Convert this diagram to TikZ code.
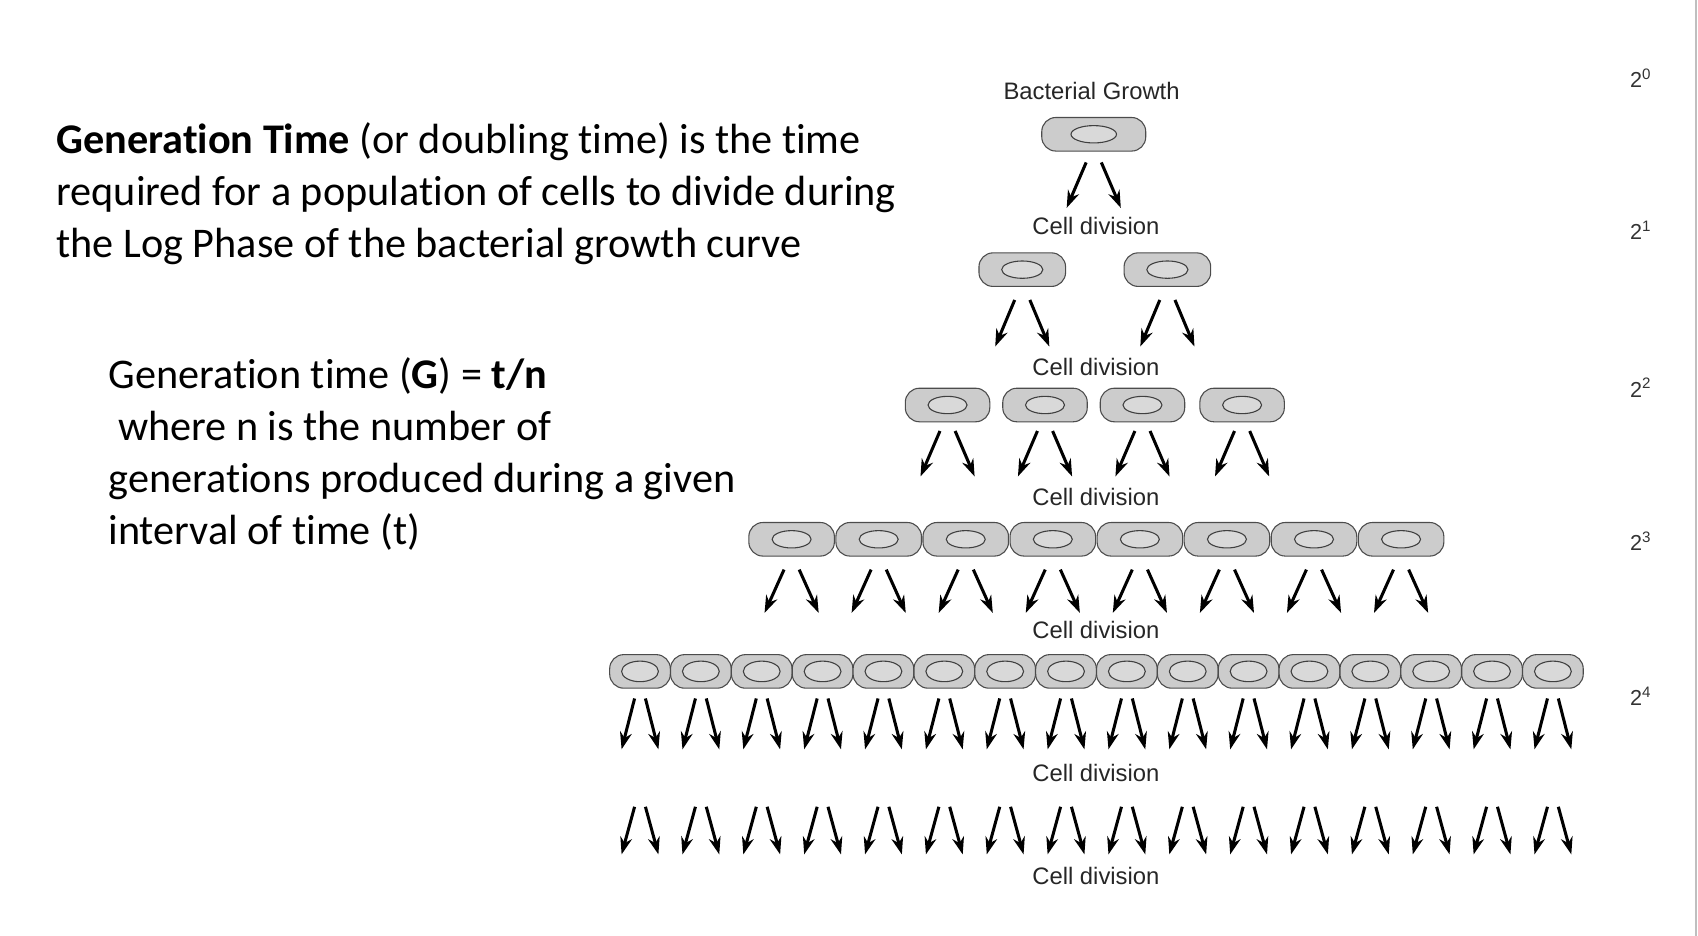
\documentclass[tikz,border=0pt]{standalone}
\usepackage{fontspec}
\setmainfont{Carlito}[Ligatures=CommonOff]
\newfontfamily\lab{Liberation Sans}
\usetikzlibrary{arrows.meta,shapes.geometric}
\tikzset{
  cellbox/.style={draw=black!70, fill=black!20, rounded corners=13pt, minimum height=31pt, line width=1pt, inner sep=0pt},
  nucl/.style={draw=black!75, fill=black!15, ellipse, line width=1pt},
  arr/.style={line width=2.8pt, -{Stealth[length=16pt,width=11pt]}},
  lbl/.style={font=\lab\fontsize{22}{26}\selectfont, text=black!85},
  expo/.style={font=\lab\fontsize{20}{24}\selectfont, text=black!80},
  body/.style={font=\fontsize{39}{48}\selectfont, anchor=north west, align=left, inner sep=0pt}
}
\begin{document}
\begin{tikzpicture}[x=1pt,y=-1pt]
\useasboundingbox (0,0) rectangle (1568,864);
\draw[black!25, line width=1.5pt] (1566,0) -- (1566,864);
\node[body] (t1) at (52,113) {\textbf{Generation Time} (or doubling time) is the time\\required for a population of cells to divide during\\the Log Phase of the bacterial growth curve};
\node[body] (t2) at (100,330) {Generation time (\textbf{G}) = \textbf{t/n}\\\ where n is the number of\\generations produced during a given\\interval of time (t)};
\node[lbl] (bg) at (1008,84) {Bacterial Growth};
\foreach \y [count=\i] in {209,339,459,582,714,809} \node[lbl] (cd\i) at (1012,\y) {Cell division};
\foreach \y/\e in {72/0,213/1,358/2,500/3,643/4} \node[expo] (e\e) at (1515,\y) {2\textsuperscript{\e}};
% cells
\newcommand\mycell[6]{% name, x, y, width, nucleus width, nucleus height
  \node[cellbox, minimum width=#4pt] (#1) at (#2,#3) {};
  \node[nucl, minimum width=#5pt, minimum height=#6pt, inner sep=0pt] (#1n) at (#2,#3) {};}
\mycell{a0}{1010}{124}{96}{42}{16}
\foreach \x [count=\i] in {944,1078} {\mycell{b\i}{\x}{249}{80}{38}{16}}
\foreach \x [count=\i] in {875,965,1055,1147} {\mycell{c\i}{\x}{374}{78}{36}{16}}
\foreach \i in {0,...,7} {\pgfmathsetmacro\xx{731+80.4*\i}\mycell{d\i}{\xx}{498}{79}{36}{16}}
\foreach \i in {0,...,15} {\pgfmathsetmacro\xx{591+56.2*\i}\mycell{f\i}{\xx}{620}{56}{34}{19}}
% arrows
\newcommand\mypair[5]{% cell, topy, boty, top offset, bottom offset
  \draw[arr] ([xshift=-#4pt]#1.south |- 0,#2) -- ([xshift=-#5pt]#1.south |- 0,#3);
  \draw[arr] ([xshift=#4pt]#1.south |- 0,#2) -- ([xshift=#5pt]#1.south |- 0,#3);}
\mypair{a0}{150}{192}{7}{25}
\foreach \i in {1,2} {\mypair{b\i}{277}{320}{7}{25}}
\foreach \i in {1,...,4} {\mypair{c\i}{398}{440}{7}{25}}
\foreach \i in {0,...,7} {\mypair{d\i}{526}{566}{7}{25}}
\foreach \i in {0,...,15} {\mypair{f\i}{645}{692}{5}{17}\mypair{f\i}{745}{789}{5}{17}}
\end{tikzpicture}
\end{document}
